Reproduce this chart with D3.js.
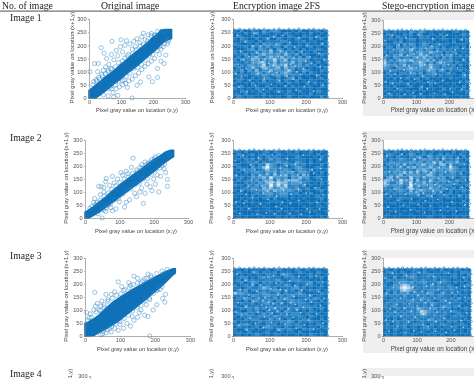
<!DOCTYPE html>
<html><head>
<meta charset="utf-8">
<script src="https://d3js.org/d3.v7.min.js"></script>
<style>
  html, body { margin: 0; padding: 0; background: #fff; overflow: hidden; }
  svg { display: block; filter: blur(0.5px); }
  .head { font-family: "Liberation Serif", serif; font-size: 9.7px; fill: #222; }
  .tick text { font-family: "Liberation Sans", sans-serif; font-size: 5.6px; fill: #555; }
  .lab { font-family: "Liberation Sans", sans-serif; fill: #444; }
</style>
</head>
<body>
<svg id="chart" width="474" height="379"></svg>
<script>
const columnTitles = ["No. of image", "Original image", "Encryption image 2FS", "Stego-encryption image"];
const imageLabels = ["Image 1", "Image 2", "Image 3", "Image 4"];
const tickVals = [0, 50, 100, 150, 200, 250, 300];
const xTickVals = [0, 100, 200, 300];
const xTitle = "Pixel gray value on location (x,y)";
const yTitle = "Pixel gray value on location (x+1,y)";

// dense part of the original image scatter: x, lower edge, upper edge
const bandX1 = [0, 8, 20, 35, 50, 65, 80, 100, 115, 130, 150, 165, 180, 200, 215, 225, 240, 258];
const bandLo1 = [0, 0, 0, 12, 26, 40, 56, 74, 90, 104, 122, 138, 154, 174, 190, 205, 218, 226];
const bandHi1 = [28, 36, 48, 62, 78, 92, 106, 128, 142, 158, 178, 192, 208, 230, 244, 258, 260, 260];
const bandX2 = [0, 10, 25, 40, 60, 80, 100, 120, 140, 160, 180, 200, 220, 235, 248, 258];
const bandLo2 = [0, 0, 10, 22, 42, 60, 80, 100, 120, 138, 158, 178, 200, 216, 228, 236];
const bandHi2 = [22, 30, 44, 60, 80, 104, 126, 146, 166, 184, 204, 224, 240, 254, 260, 260];
const bandX3 = [0, 10, 25, 40, 60, 80, 100, 120, 140, 160, 180, 200, 220, 235, 250, 258];
const bandLo3 = [0, 0, 2, 14, 28, 44, 62, 84, 104, 126, 148, 172, 194, 214, 234, 242];
const bandHi3 = [46, 54, 66, 80, 106, 130, 148, 166, 182, 196, 212, 226, 240, 250, 258, 258];

const outliers1 = [[38,191],[47,170],[72,215],[100,221],[117,218],[140,215],[170,246],[214,253],[235,253],[17,131],[29,131],[3,100],[27,100],[35,55],[135,0],[77,4],[161,61],[187,80],[214,78],[214,112],[235,131],[240,163],
  [55,150],[62,128],[70,165],[78,145],[85,180],[90,160],[98,195],[105,175],[112,200],[120,160],[128,205],[135,185],[145,195],[150,225],[158,210],[165,232],[175,222],[185,240],[195,245],[205,240],[45,105],[52,118],[40,90],[30,78],[22,70],[15,62],[60,105],[68,112],[75,20],[85,35],[95,42],[105,50],[115,55],[125,65],[135,72],[145,85],[155,95],[165,108],[175,120],[185,130],[195,140],[205,150],[220,165],[225,185],[232,195],[245,205],[248,215],[120,40],[150,48],[90,10],[60,8],[45,12],[198,62],[225,140],[110,68],[70,35],
  [12,50],[24,64],[33,72],[42,84],[52,92],[60,98],[72,110],[82,118],[92,134],[104,140],[112,152],[124,166],[136,168],[148,184],[160,198],[170,202],[182,216],[194,236],[206,238],[62,36],[70,46],[82,50],[92,64],[104,66],[116,82],[128,94],[140,112],[152,116],[164,128],[176,144],[188,160],[200,166],[212,180],[222,196],[236,206],[248,222]];
const outliers2 = [[40,122],[47,120],[55,118],[62,152],[60,140],[80,160],[105,175],[120,180],[135,195],[140,230],[165,205],[175,215],[215,240],[205,235],[240,148],[240,122],[170,56],[215,100],[195,105],[150,82],[190,120],[205,130],[220,160],[235,175],[175,95],[160,100],[115,42],[90,35],[80,28],[50,0],[35,60],[28,75],[20,45],[25,60],[45,90],[55,100],[72,125],[85,135],[95,150],[110,165],[125,170],[150,185],[160,195],[185,210],[195,225],[130,70],[145,95],[165,115],[180,130],[200,150],[230,190],[100,62],[75,40],[65,48],[55,30],[120,60],[210,165],[225,200],[245,245],[60,25],
  [14,38],[30,52],[44,68],[56,84],[68,96],[78,110],[90,124],[102,136],[114,150],[126,158],[138,172],[152,178],[166,192],[178,206],[190,216],[202,228],[38,16],[50,34],[62,40],[74,54],[86,70],[98,76],[110,92],[122,108],[134,112],[146,128],[158,134],[170,150],[182,152],[194,168],[206,186],[218,192],[232,208]];
const outliers3 = [[28,168],[95,208],[180,238],[220,250],[235,256],[170,220],[150,222],[125,205],[140,230],[105,190],[85,170],[75,160],[60,160],[48,135],[35,125],[5,90],[15,85],[25,100],[8,60],[3,45],[45,115],[65,140],[55,120],[110,175],[130,195],[160,205],[190,225],[205,240],[225,240],[185,0],[130,38],[110,30],[95,22],[75,15],[60,12],[50,8],[120,48],[140,60],[150,72],[170,80],[180,75],[195,100],[205,120],[228,130],[230,160],[222,145],[160,100],[135,75],[100,45],[85,30],[45,5],[205,175],[215,180],[70,30],[175,120],[185,140],[40,100],[30,115],[12,70],[155,90],
  [18,72],[32,92],[44,98],[54,112],[66,134],[78,146],[90,156],[102,162],[114,178],[126,186],[138,198],[150,204],[164,212],[176,222],[188,232],[52,18],[64,24],[76,36],[88,46],[100,56],[112,68],[124,80],[136,96],[148,110],[160,118],[172,136],[184,146],[196,164],[208,178],[220,190]];

// point density in 10 unit cells, top row is y=250..260, digit 0-9
const enc1 = ["89799789687679998979988797","98979869789889789898979989","97899798998798978997889798","89789979879978989789979879","99878897988887799887988998","78998979677868979989798979","98879687868779688889879898",
"89987696787967979797988789","79798868675876887979897998","88869786576768578697899878","97978657865675767869698989","79687568676476586766798897","88978765587586675868879798","69786676486567487768697989","97897578567658576878989897","88696858675867657986789978",
"79798766867686568797978989","98979878679768687889899798","88799798878979876979989879","97898989698879789798988998","89989798889988979899797989","98799889979899897989889978","79898978897989989898989899","99789897989878979979989789","88979989799999888998979898","97898899898989979989899979"];
const stego1 = ["88979889678679898989987989","97889978798799889798999878","89797889899787998979998989","98889798779888979888989797","89978698889878898998979998","78887968679867987888998889","97796877868778677979887979",
"88887687578686796878798898","79788678686677568797879989","97867587677566876886788797","68967877866757687968698898","58686656576665778677688979","47878668866568686587797898","56768758777567577868879799","67897676568676567877689889","88778887677786668679798798",
"97889778768697768887989979","89798898889878879798899878","98979987987987998989798989","89889799898899889899999797","99798888989989798998989998","88979998799899899899898979","98899789999798989979989989","89989898989989999899899897","98798989899899898989998998","89899899979989989998999899"];
const enc2 = ["88979989879789889798979989","97898798789978988899889798","89789898978789899789998979","98978797986878898888989889","99887869788767789678979898","78999797846798687787989979","97889687536787898668998789",
"89787798757687679767879898","98978767867686767866798979","79889686768576586785899889","88798676574767696757698789","97887868665857565568789898","89978786754645576677898979","78897868663646487786989989","99878678565765678688798798","89798787657566767879899879",
"98899878766876688798979989","89989798877887798989898798","99898989889799898998999879","98979899998889989899898989","89999898989998999989989898","98989989899989899998999889","99898999989999998999989999","89999989998989899899898998","99899898999899989989999899","98989999899989898999989989"];
const stego2 = ["88978989787979889898979888","97789798679878798797889789","88897889786798687868798979","79788678868767686968786897","88697777667686757586675889","97776858786757668558588798","79687687657676576767467989",
"88776768786656857676567879","67867657575867668778668798","78676586666775578687778889","96586778476867667769789878","55677467585868578667886789","46886577486757686878787988","57767687376768677787798897","78876786476877576868879789","88787678586667767789798878",
"97878787676878868798798989","89989889887986798887989797","98898788999889889898889898","89989899898998989899999979","99889989889989898998989898","98999898999899999899999989","89989999989989899989889898","99899989998999989998999999","98999899899989989899989898","89989999989998899989998989"];
const enc3 = ["88979888979878989789798898","97889779788798889878989789","89898988978897678989879898","98779897697889787898979879","87968788878768987778898989","98798679787987889888769798","79878798878878679798878979",
"88987887568798887687989889","97869778787678787979878798","46678987678869788768998978","88789678767787876877879889","97867878878687678988786798","88979768787978876778978979","89788798768787987877898898","78968879887878788978787989","98787868787687978687879879",
"88997878978879678898978989","97868798687987887789789898","89787887878678788878978989","98978778986878979887889979","79889887878887767978878898","88767988978798878789989789","97889879767889789878988978","89978898988967878997879898","88897989879898988979989989","98989878989889899898978989"];
const stego3 = ["88979898878979889798978989","97789789887878988878989778","89888978779887788989879897","88969887678887978888879888","97787778878778879778988979","88978667687768886878979898","79867545778878687887899877",
"88786434587878787787788989","97878545678887778878789878","87968677877786688778887989","78787868787878787788979889","89878878887677887878786897","98787787678786898778878979","87878879787878678887888898","78768887788878788767878989","88987878785677768787989878",
"97878787786456787878778989","88787878787557878878987898","87878787878778878789878789","98979878787887687878888979","88887887898788878897879898","97987878877889788778988789","88889879889878898988979989","98978988989887979898989898","89989898998989898989899898","98989989899998989899989989"];

// small gaps between the hollow markers, read by eye
const gapsA = [[12,238],[34,214],[58,246],[76,196],[96,226],[118,204],[138,238],[156,212],[182,228],[204,198],[228,232],[246,206],[20,178],[44,158],[66,172],[88,148],[104,182],[124,158],[146,174],[168,152],[190,176],[212,156],[236,170],[14,128],[36,112],[56,134],[78,118],[98,132],[116,108],[134,126],[152,104],[172,122],[194,112],[216,130],[240,118],[24,84],[46,68],[68,92],[86,74],[108,88],[128,66],[148,84],[166,72],[186,90],[208,62],[230,86],[16,42],[38,24],[62,48],[84,32],[106,52],[126,22],[144,46],[174,30],[196,44],[222,26],[248,50],[82,136],[92,112],[110,124],[122,96],[142,142],[158,128],[130,178],[100,100],[72,146],[176,100],[54,198],[200,140],[30,146],[250,146],[8,92],[112,232],[170,194]];
const gapsB = [[6,222],[28,242],[48,204],[70,232],[90,188],[108,244],[130,192],[150,228],[172,206],[194,242],[218,186],[240,224],[10,164],[32,186],[52,146],[74,164],[94,170],[112,138],[132,164],[154,146],[178,166],[198,128],[222,172],[244,148],[22,104],[42,122],[64,108],[84,96],[102,116],[120,84],[140,106],[160,92],[180,110],[202,96],[226,116],[248,88],[8,62],[30,56],[54,76],[76,54],[96,72],[118,44],[136,62],[158,56],[182,68],[204,36],[232,60],[18,18],[44,36],[66,14],[92,20],[114,16],[134,36],[156,18],[188,14],[212,22],[238,34],[90,142],[104,156],[126,128],[146,118],[164,178],[116,172],[78,124],[186,136],[206,166],[60,186],[36,92],[242,190],[148,200]];

// jagged outer edge of the full 0..260 block
const edgePts = [[4,259],[18,261],[31,258],[45,260],[58,262],[72,259],[86,261],[99,258],[113,260],[127,262],[140,258],[154,261],[168,259],[181,262],[195,258],[209,260],[222,261],[236,258],[250,260],[259,252],[261,238],[258,224],[260,210],[262,196],[259,182],[261,168],[258,154],[260,140],[262,126],[259,112],[261,98],[258,84],[260,70],[262,56],[259,42],[261,28],[258,14],[260,3]];

const W = 474, H = 379;
const svg = d3.select("svg#chart");

// column heads and the rule under them
const headX = [2, 101, 233, 382];
svg.selectAll("text.head").data(columnTitles).join("text")
  .attr("class", "head").attr("x", (d, i) => headX[i]).attr("y", 9).text(d => d);
svg.append("rect").attr("x", 0).attr("y", 10.5).attr("width", W).attr("height", 1.2).attr("fill", "#6e6e6e");

const labelY = [21, 141, 259, 377];
svg.selectAll("text.rowlab").data(imageLabels).join("text")
  .attr("class", "head rowlab").attr("x", 10).attr("y", (d, i) => labelY[i]).text(d => d);

// panel frames: x0/x300 and y0/y300 in page pixels
const panels = [
  {x0: 89, x3: 185, y0: 98, y3: 19, band: [bandX1, bandLo1, bandHi1], pts: outliers1, yl: 74, xl: 137, xy: 112},
  {x0: 233, x3: 342, y0: 98, y3: 19, grid: enc1, gaps: gapsA, yl: 214, xl: 287, xy: 112},
  {x0: 383, x3: 482, y0: 98, y3: 20, grid: stego1, gaps: gapsB, yl: 366, xl: 436, xy: 112, bg: [12, 116], big: true},
  {x0: 85, x3: 188, y0: 218, y3: 140, band: [bandX2, bandLo2, bandHi2], pts: outliers2, yl: 68, xl: 136, xy: 233},
  {x0: 233, x3: 342, y0: 218, y3: 140, grid: enc2, gaps: gapsB, yl: 213, xl: 287, xy: 233},
  {x0: 383, x3: 482, y0: 218, y3: 140, grid: stego2, gaps: gapsA, yl: 366, xl: 436, xy: 233, bg: [131, 237], big: true},
  {x0: 85, x3: 190, y0: 336, y3: 258, band: [bandX3, bandLo3, bandHi3], pts: outliers3, yl: 68, xl: 138, xy: 351},
  {x0: 233, x3: 342, y0: 336, y3: 258, grid: enc3, gaps: gapsA, yl: 213, xl: 287, xy: 351},
  {x0: 383, x3: 484, y0: 336, y3: 258, grid: stego3, gaps: gapsB, yl: 366, xl: 436, xy: 351, bg: [250, 353], big: true},
  {x0: 90, x3: 190, y0: 455, y3: 376, yl: 72, xl: 138, xy: 470},
  {x0: 233, x3: 342, y0: 455, y3: 376, yl: 213, xl: 287, xy: 470},
  {x0: 383, x3: 484, y0: 455, y3: 376, yl: 366, xl: 436, xy: 470, bg: [368, 480], big: true}
];

const density = d3.scaleLinear().domain([3, 6, 9]).range(["#e6f1f9", "#4f9bd0", "#0b6eb7"]).clamp(true);

panels.forEach(p => {
  const x = d3.scaleLinear().domain([0, 300]).range([p.x0, p.x3]);
  const y = d3.scaleLinear().domain([0, 300]).range([p.y0, p.y3]);
  const g = svg.append("g");

  if (p.bg) {
    g.append("rect").attr("x", 363).attr("y", p.bg[0]).attr("width", W - 363)
      .attr("height", p.bg[1] - p.bg[0]).attr("fill", "#efefef");
    g.append("rect").attr("x", p.x0).attr("y", p.y3).attr("width", W - p.x0)
      .attr("height", p.y0 - p.y3).attr("fill", "#fff");
  }

  if (p.band) {
    const rows = p.band[0].map((v, i) => ({x: v, lo: p.band[1][i], hi: p.band[2][i]}));
    g.append("path").datum(rows).attr("fill", "#0f72b9").attr("stroke", "#0f72b9")
      .attr("stroke-width", 1.6).attr("stroke-linejoin", "round")
      .attr("d", d3.area().x(d => x(d.x)).y0(d => y(d.lo)).y1(d => y(d.hi)));
    g.selectAll("circle").data(p.pts).join("circle")
      .attr("cx", d => x(d[0])).attr("cy", d => y(d[1])).attr("r", 2.1)
      .attr("fill", "none").attr("stroke", "#2a82c0").attr("stroke-width", 0.55).attr("stroke-opacity", 0.85);
  }

  if (p.grid) {
    const cells = [];
    p.grid.forEach((row, r) => row.split("").forEach((c, k) => {
      cells.push({vx: k * 10, vy: (25 - r) * 10, v: +c});
    }));
    g.selectAll("rect.cell").data(cells).join("rect").attr("class", "cell")
      .attr("x", d => x(d.vx)).attr("y", d => y(d.vy + 10))
      .attr("width", d => x(d.vx + 10) - x(d.vx) + 0.2).attr("height", d => y(d.vy) - y(d.vy + 10) + 0.2)
      .attr("fill", d => density(d.v));
    g.selectAll("circle.gap").data(p.gaps).join("circle").attr("class", "gap")
      .attr("cx", d => x(d[0])).attr("cy", d => y(d[1])).attr("r", 0.9)
      .attr("fill", "#fff").attr("fill-opacity", 0.6);
    g.selectAll("circle.edge").data(edgePts).join("circle").attr("class", "edge")
      .attr("cx", d => x(d[0])).attr("cy", d => y(d[1])).attr("r", 1.1)
      .attr("fill", "none").attr("stroke", "#1a78bd").attr("stroke-width", 0.7);
  }

  const ax = g.append("g").attr("transform", `translate(0,${p.y0})`)
    .call(d3.axisBottom(x).tickValues(xTickVals).tickSize(1).tickPadding(1.5).tickFormat(d3.format("d")));
  const ay = g.append("g").attr("transform", `translate(${p.x0},0)`)
    .call(d3.axisLeft(y).tickValues(tickVals).tickSize(1).tickPadding(1.5).tickFormat(d3.format("d")));
  [ax, ay].forEach(a => {
    a.select(".domain").attr("stroke", "#777").attr("stroke-width", 0.6);
    a.selectAll(".tick line").attr("stroke", "#777").attr("stroke-width", 0.5);
  });

  g.append("text").attr("class", "lab").attr("font-size", p.big ? 6.3 : 5.7).attr("x", p.xl).attr("y", p.xy)
    .attr("text-anchor", "middle").text(xTitle);
  g.append("text").attr("class", "lab").attr("font-size", 5.9).attr("text-anchor", "middle")
    .attr("transform", `translate(${p.yl},${(p.y0 + p.y3) / 2 - 1}) rotate(-90)`).text(yTitle);
});
</script>
</body></html>
